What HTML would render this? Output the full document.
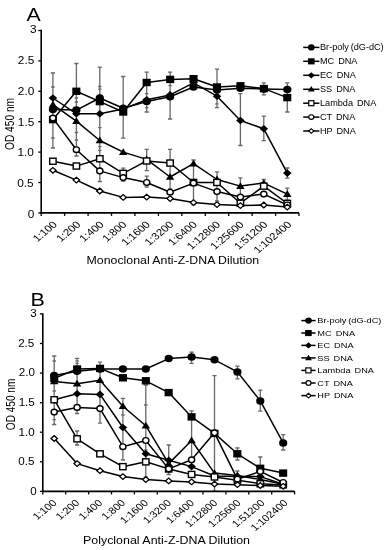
<!DOCTYPE html>
<html><head><meta charset="utf-8"><title>Figure</title>
<style>
html,body{margin:0;padding:0;background:#fff;}
svg{display:block;font-family:"Liberation Sans",Arial,sans-serif;fill:#000;}
</style></head>
<body>
<svg width="389" height="550" viewBox="0 0 389 550">
<defs><filter id="soft" x="0" y="0" width="100%" height="100%" filterUnits="userSpaceOnUse"><feGaussianBlur stdDeviation="0.35"/></filter></defs>
<g filter="url(#soft)">
<rect width="389" height="550" fill="#fff"/>
<path d="M52.9 73.0V148.0M50.8 73.0h4.2M50.8 148.0h4.2M51.2 87.0h3.4M51.2 138.0h3.4" stroke="#686868" stroke-width="1.3" fill="none"/>
<path d="M76.4 63.5V156.0M74.3 63.5h4.2M74.3 156.0h4.2M74.7 98.0h3.4M74.7 102.0h3.4M74.7 132.5h3.4M74.7 140.0h3.4" stroke="#686868" stroke-width="1.3" fill="none"/>
<path d="M99.8 67.2V181.5M97.7 67.2h4.2M97.7 181.5h4.2M98.1 86.5h3.4M98.1 89.2h3.4M98.1 127.6h3.4M98.1 146.7h3.4M98.1 150.3h3.4" stroke="#686868" stroke-width="1.3" fill="none"/>
<path d="M123.2 76.5V138.1M121.1 76.5h4.2M121.1 138.1h4.2" stroke="#686868" stroke-width="1.3" fill="none"/>
<path d="M123.2 168.2V181.0M121.1 168.2h4.2M121.1 181.0h4.2" stroke="#686868" stroke-width="1.3" fill="none"/>
<path d="M146.7 72.1V112.0M144.6 72.1h4.2M144.6 112.0h4.2M145.0 93.6h3.4M145.0 107.6h3.4" stroke="#686868" stroke-width="1.3" fill="none"/>
<path d="M146.7 149.3V170.6M144.6 149.3h4.2M144.6 170.6h4.2" stroke="#686868" stroke-width="1.3" fill="none"/>
<path d="M146.7 176.2V187.0M144.6 176.2h4.2M144.6 187.0h4.2" stroke="#686868" stroke-width="1.3" fill="none"/>
<path d="M170.1 72.1V119.0M168.0 72.1h4.2M168.0 119.0h4.2M168.4 85.6h3.4" stroke="#686868" stroke-width="1.3" fill="none"/>
<path d="M170.1 149.3V189.0M168.0 149.3h4.2M168.0 189.0h4.2" stroke="#686868" stroke-width="1.3" fill="none"/>
<path d="M193.5 160.0V204.8M191.4 160.0h4.2M191.4 204.8h4.2" stroke="#686868" stroke-width="1.3" fill="none"/>
<path d="M217.0 69.1V107.7M214.9 69.1h4.2M214.9 107.7h4.2M215.3 103.8h3.4" stroke="#686868" stroke-width="1.3" fill="none"/>
<path d="M217.0 171.8V201.0M214.9 171.8h4.2M214.9 201.0h4.2" stroke="#686868" stroke-width="1.3" fill="none"/>
<path d="M240.4 93.6V145.5M238.3 93.6h4.2M238.3 145.5h4.2" stroke="#686868" stroke-width="1.3" fill="none"/>
<path d="M240.4 177.8V196.0M238.3 177.8h4.2M238.3 196.0h4.2" stroke="#686868" stroke-width="1.3" fill="none"/>
<path d="M263.8 116.2V140.6M261.7 116.2h4.2M261.7 140.6h4.2" stroke="#686868" stroke-width="1.3" fill="none"/>
<path d="M263.8 82.8V94.8M261.7 82.8h4.2M261.7 94.8h4.2" stroke="#686868" stroke-width="1.3" fill="none"/>
<path d="M263.8 179.5V188.0M261.7 179.5h4.2M261.7 188.0h4.2" stroke="#686868" stroke-width="1.3" fill="none"/>
<path d="M287.3 82.8V112.0M285.2 82.8h4.2M285.2 112.0h4.2" stroke="#686868" stroke-width="1.3" fill="none"/>
<path d="M287.3 168.0V178.2M285.2 168.0h4.2M285.2 178.2h4.2" stroke="#686868" stroke-width="1.3" fill="none"/>
<path d="M287.3 188.2V200.0M285.2 188.2h4.2M285.2 200.0h4.2" stroke="#686868" stroke-width="1.3" fill="none"/>
<path d="M41.2 29.8V212.9H299.0" stroke="#000" stroke-width="1.6" fill="none"/>
<path d="M38.3 212.9H41.2" stroke="#000" stroke-width="1.3"/>
<text transform="translate(34.4 217.8) scale(1.14 1)" font-size="10.4" text-anchor="end">0</text>
<path d="M38.3 182.5H41.2" stroke="#000" stroke-width="1.3"/>
<text transform="translate(33.7 186.5) scale(1.14 1)" font-size="10.4" text-anchor="end">0.5</text>
<path d="M38.3 152.1H41.2" stroke="#000" stroke-width="1.3"/>
<text transform="translate(33.9 156.0) scale(1.14 1)" font-size="10.4" text-anchor="end">1.0</text>
<path d="M38.3 121.7H41.2" stroke="#000" stroke-width="1.3"/>
<text transform="translate(34.3 125.7) scale(1.14 1)" font-size="10.4" text-anchor="end">1.5</text>
<path d="M38.3 91.3H41.2" stroke="#000" stroke-width="1.3"/>
<text transform="translate(34.3 94.5) scale(1.14 1)" font-size="10.4" text-anchor="end">2.0</text>
<path d="M38.3 60.9H41.2" stroke="#000" stroke-width="1.3"/>
<text transform="translate(34.3 64.4) scale(1.14 1)" font-size="10.4" text-anchor="end">2.5</text>
<path d="M38.3 30.5H41.2" stroke="#000" stroke-width="1.3"/>
<text transform="translate(36.7 33.1) scale(1.14 1)" font-size="10.4" text-anchor="end">3</text>
<path d="M41.2 212.9v3" stroke="#000" stroke-width="1.3"/>
<path d="M64.6 212.9v3" stroke="#000" stroke-width="1.3"/>
<path d="M88.1 212.9v3" stroke="#000" stroke-width="1.3"/>
<path d="M111.5 212.9v3" stroke="#000" stroke-width="1.3"/>
<path d="M134.9 212.9v3" stroke="#000" stroke-width="1.3"/>
<path d="M158.4 212.9v3" stroke="#000" stroke-width="1.3"/>
<path d="M181.8 212.9v3" stroke="#000" stroke-width="1.3"/>
<path d="M205.3 212.9v3" stroke="#000" stroke-width="1.3"/>
<path d="M228.7 212.9v3" stroke="#000" stroke-width="1.3"/>
<path d="M252.1 212.9v3" stroke="#000" stroke-width="1.3"/>
<path d="M275.6 212.9v3" stroke="#000" stroke-width="1.3"/>
<path d="M299.0 212.9v3" stroke="#000" stroke-width="1.3"/>
<text transform="translate(52.0 220.2) scale(1.19 1) rotate(-45)" x="0" y="6.98" font-size="9.7" text-anchor="end">1:100</text>
<text transform="translate(75.5 220.2) scale(1.19 1) rotate(-45)" x="0" y="6.98" font-size="9.7" text-anchor="end">1:200</text>
<text transform="translate(98.6 220.2) scale(1.19 1) rotate(-45)" x="0" y="6.98" font-size="9.7" text-anchor="end">1:400</text>
<text transform="translate(121.5 220.2) scale(1.19 1) rotate(-45)" x="0" y="6.98" font-size="9.7" text-anchor="end">1:800</text>
<text transform="translate(145.0 220.2) scale(1.19 1) rotate(-45)" x="0" y="6.98" font-size="9.7" text-anchor="end">1:1600</text>
<text transform="translate(168.4 220.2) scale(1.19 1) rotate(-45)" x="0" y="6.98" font-size="9.7" text-anchor="end">1:3200</text>
<text transform="translate(191.8 220.2) scale(1.19 1) rotate(-45)" x="0" y="6.98" font-size="9.7" text-anchor="end">1:6400</text>
<text transform="translate(215.1 220.2) scale(1.19 1) rotate(-45)" x="0" y="6.98" font-size="9.7" text-anchor="end">1:12800</text>
<text transform="translate(238.7 220.2) scale(1.19 1) rotate(-45)" x="0" y="6.98" font-size="9.7" text-anchor="end">1:25600</text>
<text transform="translate(262.3 220.2) scale(1.19 1) rotate(-45)" x="0" y="6.98" font-size="9.7" text-anchor="end">1:51200</text>
<text transform="translate(286.4 220.2) scale(1.19 1) rotate(-45)" x="0" y="6.98" font-size="9.7" text-anchor="end">1:102400</text>
<polyline points="52.9,109.5 76.4,110.1 99.8,98.0 123.2,108.3 146.7,101.6 170.1,96.8 193.5,87.0 217.0,90.1 240.4,88.3 263.8,88.9 287.3,89.5" fill="none" stroke="#000" stroke-width="1.5" stroke-linejoin="round"/>
<ellipse cx="52.9" cy="109.5" rx="4.10" ry="3.75" fill="#000"/>
<ellipse cx="76.4" cy="110.1" rx="4.10" ry="3.75" fill="#000"/>
<ellipse cx="99.8" cy="98.0" rx="4.10" ry="3.75" fill="#000"/>
<ellipse cx="123.2" cy="108.3" rx="4.10" ry="3.75" fill="#000"/>
<ellipse cx="146.7" cy="101.6" rx="4.10" ry="3.75" fill="#000"/>
<ellipse cx="170.1" cy="96.8" rx="4.10" ry="3.75" fill="#000"/>
<ellipse cx="193.5" cy="87.0" rx="4.10" ry="3.75" fill="#000"/>
<ellipse cx="217.0" cy="90.1" rx="4.10" ry="3.75" fill="#000"/>
<ellipse cx="240.4" cy="88.3" rx="4.10" ry="3.75" fill="#000"/>
<ellipse cx="263.8" cy="88.9" rx="4.10" ry="3.75" fill="#000"/>
<ellipse cx="287.3" cy="89.5" rx="4.10" ry="3.75" fill="#000"/>
<polyline points="52.9,119.6 76.4,91.3 99.8,101.6 123.2,112.0 146.7,82.5 170.1,79.4 193.5,78.7 217.0,87.0 240.4,85.8 263.8,88.6 287.3,97.6" fill="none" stroke="#000" stroke-width="1.5" stroke-linejoin="round"/>
<rect x="48.9" y="115.9" width="8.1" height="7.4" fill="#000"/>
<rect x="72.3" y="87.6" width="8.1" height="7.4" fill="#000"/>
<rect x="95.7" y="97.9" width="8.1" height="7.4" fill="#000"/>
<rect x="119.2" y="108.3" width="8.1" height="7.4" fill="#000"/>
<rect x="142.6" y="78.8" width="8.1" height="7.4" fill="#000"/>
<rect x="166.1" y="75.7" width="8.1" height="7.4" fill="#000"/>
<rect x="189.5" y="75.0" width="8.1" height="7.4" fill="#000"/>
<rect x="212.9" y="83.3" width="8.1" height="7.4" fill="#000"/>
<rect x="236.4" y="82.1" width="8.1" height="7.4" fill="#000"/>
<rect x="259.8" y="84.9" width="8.1" height="7.4" fill="#000"/>
<rect x="283.2" y="93.9" width="8.1" height="7.4" fill="#000"/>
<polyline points="52.9,98.0 76.4,113.8 99.8,113.8 123.2,108.9 146.7,99.8 170.1,94.9 193.5,82.8 217.0,96.2 240.4,120.5 263.8,128.8 287.3,173.1" fill="none" stroke="#000" stroke-width="1.5" stroke-linejoin="round"/>
<path d="M48.6 98.0L52.9 94.2L57.2 98.0L52.9 101.8Z" fill="#000"/>
<path d="M72.1 113.8L76.4 110.0L80.7 113.8L76.4 117.6Z" fill="#000"/>
<path d="M95.5 113.8L99.8 110.0L104.1 113.8L99.8 117.6Z" fill="#000"/>
<path d="M118.9 108.9L123.2 105.1L127.5 108.9L123.2 112.7Z" fill="#000"/>
<path d="M142.4 99.8L146.7 96.0L151.0 99.8L146.7 103.6Z" fill="#000"/>
<path d="M165.8 94.9L170.1 91.1L174.4 94.9L170.1 98.7Z" fill="#000"/>
<path d="M189.2 82.8L193.5 79.0L197.8 82.8L193.5 86.6Z" fill="#000"/>
<path d="M212.7 96.2L217.0 92.4L221.3 96.2L217.0 100.0Z" fill="#000"/>
<path d="M236.1 120.5L240.4 116.7L244.7 120.5L240.4 124.3Z" fill="#000"/>
<path d="M259.5 128.8L263.8 125.0L268.1 128.8L263.8 132.6Z" fill="#000"/>
<path d="M283.0 173.1L287.3 169.3L291.6 173.1L287.3 176.9Z" fill="#000"/>
<polyline points="52.9,104.7 76.4,121.1 99.8,140.5 123.2,152.1 146.7,159.4 170.1,177.0 193.5,163.7 217.0,179.5 240.4,186.1 263.8,183.1 287.3,194.1" fill="none" stroke="#000" stroke-width="1.5" stroke-linejoin="round"/>
<path d="M48.7 107.5L52.9 100.8L57.1 107.5Z" fill="#000"/>
<path d="M72.2 123.9L76.4 117.2L80.6 123.9Z" fill="#000"/>
<path d="M95.6 143.3L99.8 136.6L104.0 143.3Z" fill="#000"/>
<path d="M119.0 154.9L123.2 148.2L127.4 154.9Z" fill="#000"/>
<path d="M142.5 162.2L146.7 155.5L150.9 162.2Z" fill="#000"/>
<path d="M165.9 179.8L170.1 173.1L174.3 179.8Z" fill="#000"/>
<path d="M189.3 166.5L193.5 159.8L197.7 166.5Z" fill="#000"/>
<path d="M212.8 182.3L217.0 175.6L221.2 182.3Z" fill="#000"/>
<path d="M236.2 188.9L240.4 182.2L244.6 188.9Z" fill="#000"/>
<path d="M259.6 185.9L263.8 179.2L268.0 185.9Z" fill="#000"/>
<path d="M283.1 196.9L287.3 190.2L291.5 196.9Z" fill="#000"/>
<polyline points="52.9,161.2 76.4,166.1 99.8,158.8 123.2,173.4 146.7,160.9 170.1,163.0 193.5,182.5 217.0,182.5 240.4,203.2 263.8,186.1 287.3,203.5" fill="none" stroke="#000" stroke-width="1.5" stroke-linejoin="round"/>
<rect x="49.7" y="158.2" width="6.4" height="6.1" fill="#fff" stroke="#000" stroke-width="1.40"/>
<rect x="73.2" y="163.0" width="6.4" height="6.1" fill="#fff" stroke="#000" stroke-width="1.40"/>
<rect x="96.6" y="155.7" width="6.4" height="6.1" fill="#fff" stroke="#000" stroke-width="1.40"/>
<rect x="120.0" y="170.3" width="6.4" height="6.1" fill="#fff" stroke="#000" stroke-width="1.40"/>
<rect x="143.5" y="157.9" width="6.4" height="6.1" fill="#fff" stroke="#000" stroke-width="1.40"/>
<rect x="166.9" y="160.0" width="6.4" height="6.1" fill="#fff" stroke="#000" stroke-width="1.40"/>
<rect x="190.3" y="179.4" width="6.4" height="6.1" fill="#fff" stroke="#000" stroke-width="1.40"/>
<rect x="213.8" y="179.4" width="6.4" height="6.1" fill="#fff" stroke="#000" stroke-width="1.40"/>
<rect x="237.2" y="200.1" width="6.4" height="6.1" fill="#fff" stroke="#000" stroke-width="1.40"/>
<rect x="260.6" y="183.1" width="6.4" height="6.1" fill="#fff" stroke="#000" stroke-width="1.40"/>
<rect x="284.1" y="200.4" width="6.4" height="6.1" fill="#fff" stroke="#000" stroke-width="1.40"/>
<polyline points="52.9,118.1 76.4,149.7 99.8,170.9 123.2,177.6 146.7,182.5 170.1,192.2 193.5,183.1 217.0,191.6 240.4,197.1 263.8,194.1 287.3,205.0" fill="none" stroke="#000" stroke-width="1.5" stroke-linejoin="round"/>
<ellipse cx="52.9" cy="118.1" rx="3.10" ry="2.85" fill="#fff" stroke="#000" stroke-width="1.40"/>
<ellipse cx="76.4" cy="149.7" rx="3.10" ry="2.85" fill="#fff" stroke="#000" stroke-width="1.40"/>
<ellipse cx="99.8" cy="170.9" rx="3.10" ry="2.85" fill="#fff" stroke="#000" stroke-width="1.40"/>
<ellipse cx="123.2" cy="177.6" rx="3.10" ry="2.85" fill="#fff" stroke="#000" stroke-width="1.40"/>
<ellipse cx="146.7" cy="182.5" rx="3.10" ry="2.85" fill="#fff" stroke="#000" stroke-width="1.40"/>
<ellipse cx="170.1" cy="192.2" rx="3.10" ry="2.85" fill="#fff" stroke="#000" stroke-width="1.40"/>
<ellipse cx="193.5" cy="183.1" rx="3.10" ry="2.85" fill="#fff" stroke="#000" stroke-width="1.40"/>
<ellipse cx="217.0" cy="191.6" rx="3.10" ry="2.85" fill="#fff" stroke="#000" stroke-width="1.40"/>
<ellipse cx="240.4" cy="197.1" rx="3.10" ry="2.85" fill="#fff" stroke="#000" stroke-width="1.40"/>
<ellipse cx="263.8" cy="194.1" rx="3.10" ry="2.85" fill="#fff" stroke="#000" stroke-width="1.40"/>
<ellipse cx="287.3" cy="205.0" rx="3.10" ry="2.85" fill="#fff" stroke="#000" stroke-width="1.40"/>
<polyline points="52.9,170.3 76.4,180.1 99.8,191.0 123.2,197.4 146.7,197.1 170.1,198.6 193.5,202.6 217.0,204.6 240.4,205.6 263.8,205.0 287.3,207.1" fill="none" stroke="#000" stroke-width="1.5" stroke-linejoin="round"/>
<path d="M49.7 170.3L52.9 167.5L56.1 170.3L52.9 173.1Z" fill="#fff" stroke="#000" stroke-width="1.30"/>
<path d="M73.2 180.1L76.4 177.3L79.6 180.1L76.4 182.9Z" fill="#fff" stroke="#000" stroke-width="1.30"/>
<path d="M96.6 191.0L99.8 188.2L103.0 191.0L99.8 193.8Z" fill="#fff" stroke="#000" stroke-width="1.30"/>
<path d="M120.0 197.4L123.2 194.6L126.4 197.4L123.2 200.2Z" fill="#fff" stroke="#000" stroke-width="1.30"/>
<path d="M143.5 197.1L146.7 194.3L149.9 197.1L146.7 199.9Z" fill="#fff" stroke="#000" stroke-width="1.30"/>
<path d="M166.9 198.6L170.1 195.8L173.3 198.6L170.1 201.4Z" fill="#fff" stroke="#000" stroke-width="1.30"/>
<path d="M190.3 202.6L193.5 199.8L196.7 202.6L193.5 205.4Z" fill="#fff" stroke="#000" stroke-width="1.30"/>
<path d="M213.8 204.6L217.0 201.8L220.2 204.6L217.0 207.4Z" fill="#fff" stroke="#000" stroke-width="1.30"/>
<path d="M237.2 205.6L240.4 202.8L243.6 205.6L240.4 208.4Z" fill="#fff" stroke="#000" stroke-width="1.30"/>
<path d="M260.6 205.0L263.8 202.2L267.0 205.0L263.8 207.8Z" fill="#fff" stroke="#000" stroke-width="1.30"/>
<path d="M284.1 207.1L287.3 204.3L290.5 207.1L287.3 209.9Z" fill="#fff" stroke="#000" stroke-width="1.30"/>
<path d="M54.2 356.0V424.5M52.1 356.0h4.2M52.1 424.5h4.2M52.5 361.0h3.4M52.5 391.0h3.4M52.5 419.6h3.4" stroke="#686868" stroke-width="1.3" fill="none"/>
<path d="M77.1 358.4V413.5M75.0 358.4h4.2M75.0 413.5h4.2M75.4 360.9h3.4M75.4 363.3h3.4" stroke="#686868" stroke-width="1.3" fill="none"/>
<path d="M77.1 431.0V445.0M75.0 431.0h4.2M75.0 445.0h4.2" stroke="#686868" stroke-width="1.3" fill="none"/>
<path d="M100.0 362.1V423.2M97.9 362.1h4.2M97.9 423.2h4.2M98.3 366.0h3.4" stroke="#686868" stroke-width="1.3" fill="none"/>
<path d="M122.9 398.3V460.0M120.8 398.3h4.2M120.8 460.0h4.2M121.2 415.0h3.4" stroke="#686868" stroke-width="1.3" fill="none"/>
<path d="M145.8 385.0V477.0M143.7 385.0h4.2M143.7 477.0h4.2M144.1 405.0h3.4M144.1 450.0h3.4" stroke="#686868" stroke-width="1.3" fill="none"/>
<path d="M168.7 445.0V474.5M166.6 445.0h4.2M166.6 474.5h4.2" stroke="#686868" stroke-width="1.3" fill="none"/>
<path d="M191.6 352.2V363.3M189.5 352.2h4.2M189.5 363.3h4.2" stroke="#686868" stroke-width="1.3" fill="none"/>
<path d="M191.6 410.9V462.0M189.5 410.9h4.2M189.5 462.0h4.2" stroke="#686868" stroke-width="1.3" fill="none"/>
<path d="M214.5 375.7V491.0M212.4 375.7h4.2M212.4 491.0h4.2" stroke="#686868" stroke-width="1.3" fill="none"/>
<path d="M237.4 366.1V378.8M235.3 366.1h4.2M235.3 378.8h4.2" stroke="#686868" stroke-width="1.3" fill="none"/>
<path d="M237.4 448.0V460.0M235.3 448.0h4.2M235.3 460.0h4.2" stroke="#686868" stroke-width="1.3" fill="none"/>
<path d="M237.4 471.0V481.0M235.3 471.0h4.2M235.3 481.0h4.2" stroke="#686868" stroke-width="1.3" fill="none"/>
<path d="M260.3 390.2V411.2M258.2 390.2h4.2M258.2 411.2h4.2" stroke="#686868" stroke-width="1.3" fill="none"/>
<path d="M260.3 457.0V480.0M258.2 457.0h4.2M258.2 480.0h4.2" stroke="#686868" stroke-width="1.3" fill="none"/>
<path d="M283.2 434.7V450.0M281.1 434.7h4.2M281.1 450.0h4.2" stroke="#686868" stroke-width="1.3" fill="none"/>
<path d="M42.8 313.2V491.4H294.6" stroke="#000" stroke-width="1.6" fill="none"/>
<path d="M39.9 491.4H42.8" stroke="#000" stroke-width="1.3"/>
<text transform="translate(36.6 494.8) scale(1.14 1)" font-size="10.2" text-anchor="end">0</text>
<path d="M39.9 461.8H42.8" stroke="#000" stroke-width="1.3"/>
<text transform="translate(34.5 465.3) scale(1.14 1)" font-size="10.2" text-anchor="end">0.5</text>
<path d="M39.9 432.2H42.8" stroke="#000" stroke-width="1.3"/>
<text transform="translate(34.7 435.5) scale(1.14 1)" font-size="10.2" text-anchor="end">1.0</text>
<path d="M39.9 402.7H42.8" stroke="#000" stroke-width="1.3"/>
<text transform="translate(34.8 405.5) scale(1.14 1)" font-size="10.2" text-anchor="end">1.5</text>
<path d="M39.9 373.1H42.8" stroke="#000" stroke-width="1.3"/>
<text transform="translate(34.9 376.2) scale(1.14 1)" font-size="10.2" text-anchor="end">2.0</text>
<path d="M39.9 343.5H42.8" stroke="#000" stroke-width="1.3"/>
<text transform="translate(34.3 346.9) scale(1.14 1)" font-size="10.2" text-anchor="end">2.5</text>
<path d="M39.9 313.9H42.8" stroke="#000" stroke-width="1.3"/>
<text transform="translate(36.7 317.4) scale(1.14 1)" font-size="10.2" text-anchor="end">3</text>
<path d="M42.8 491.4v3" stroke="#000" stroke-width="1.3"/>
<path d="M65.7 491.4v3" stroke="#000" stroke-width="1.3"/>
<path d="M88.6 491.4v3" stroke="#000" stroke-width="1.3"/>
<path d="M111.5 491.4v3" stroke="#000" stroke-width="1.3"/>
<path d="M134.4 491.4v3" stroke="#000" stroke-width="1.3"/>
<path d="M157.3 491.4v3" stroke="#000" stroke-width="1.3"/>
<path d="M180.1 491.4v3" stroke="#000" stroke-width="1.3"/>
<path d="M203.0 491.4v3" stroke="#000" stroke-width="1.3"/>
<path d="M225.9 491.4v3" stroke="#000" stroke-width="1.3"/>
<path d="M248.8 491.4v3" stroke="#000" stroke-width="1.3"/>
<path d="M271.7 491.4v3" stroke="#000" stroke-width="1.3"/>
<path d="M294.6 491.4v3" stroke="#000" stroke-width="1.3"/>
<text transform="translate(51.6 498.7) scale(1.19 1) rotate(-45)" x="0" y="6.84" font-size="9.5" text-anchor="end">1:100</text>
<text transform="translate(74.5 498.7) scale(1.19 1) rotate(-45)" x="0" y="6.84" font-size="9.5" text-anchor="end">1:200</text>
<text transform="translate(97.4 498.7) scale(1.19 1) rotate(-45)" x="0" y="6.84" font-size="9.5" text-anchor="end">1:400</text>
<text transform="translate(120.3 498.7) scale(1.19 1) rotate(-45)" x="0" y="6.84" font-size="9.5" text-anchor="end">1:800</text>
<text transform="translate(143.2 498.7) scale(1.19 1) rotate(-45)" x="0" y="6.84" font-size="9.5" text-anchor="end">1:1600</text>
<text transform="translate(166.1 498.7) scale(1.19 1) rotate(-45)" x="0" y="6.84" font-size="9.5" text-anchor="end">1:3200</text>
<text transform="translate(189.3 498.7) scale(1.19 1) rotate(-45)" x="0" y="6.84" font-size="9.5" text-anchor="end">1:6400</text>
<text transform="translate(212.5 498.7) scale(1.19 1) rotate(-45)" x="0" y="6.84" font-size="9.5" text-anchor="end">1:12800</text>
<text transform="translate(235.7 498.7) scale(1.19 1) rotate(-45)" x="0" y="6.84" font-size="9.5" text-anchor="end">1:25600</text>
<text transform="translate(259.6 498.7) scale(1.19 1) rotate(-45)" x="0" y="6.84" font-size="9.5" text-anchor="end">1:51200</text>
<text transform="translate(282.8 498.7) scale(1.19 1) rotate(-45)" x="0" y="6.84" font-size="9.5" text-anchor="end">1:102400</text>
<polyline points="54.2,375.5 77.1,371.3 100.0,369.0 122.9,369.0 145.8,369.0 168.7,358.6 191.6,357.1 214.5,359.8 237.4,371.9 260.3,400.9 283.2,442.9" fill="none" stroke="#000" stroke-width="1.5" stroke-linejoin="round"/>
<ellipse cx="54.2" cy="375.5" rx="4.10" ry="3.75" fill="#000"/>
<ellipse cx="77.1" cy="371.3" rx="4.10" ry="3.75" fill="#000"/>
<ellipse cx="100.0" cy="369.0" rx="4.10" ry="3.75" fill="#000"/>
<ellipse cx="122.9" cy="369.0" rx="4.10" ry="3.75" fill="#000"/>
<ellipse cx="145.8" cy="369.0" rx="4.10" ry="3.75" fill="#000"/>
<ellipse cx="168.7" cy="358.6" rx="4.10" ry="3.75" fill="#000"/>
<ellipse cx="191.6" cy="357.1" rx="4.10" ry="3.75" fill="#000"/>
<ellipse cx="214.5" cy="359.8" rx="4.10" ry="3.75" fill="#000"/>
<ellipse cx="237.4" cy="371.9" rx="4.10" ry="3.75" fill="#000"/>
<ellipse cx="260.3" cy="400.9" rx="4.10" ry="3.75" fill="#000"/>
<ellipse cx="283.2" cy="442.9" rx="4.10" ry="3.75" fill="#000"/>
<polyline points="54.2,378.4 77.1,369.0 100.0,368.4 122.9,377.8 145.8,380.8 168.7,392.6 191.6,416.9 214.5,433.4 237.4,453.8 260.3,468.3 283.2,473.1" fill="none" stroke="#000" stroke-width="1.5" stroke-linejoin="round"/>
<rect x="50.2" y="374.7" width="8.1" height="7.4" fill="#000"/>
<rect x="73.1" y="365.3" width="8.1" height="7.4" fill="#000"/>
<rect x="96.0" y="364.7" width="8.1" height="7.4" fill="#000"/>
<rect x="118.9" y="374.1" width="8.1" height="7.4" fill="#000"/>
<rect x="141.8" y="377.1" width="8.1" height="7.4" fill="#000"/>
<rect x="164.6" y="388.9" width="8.1" height="7.4" fill="#000"/>
<rect x="187.5" y="413.2" width="8.1" height="7.4" fill="#000"/>
<rect x="210.4" y="429.7" width="8.1" height="7.4" fill="#000"/>
<rect x="233.3" y="450.1" width="8.1" height="7.4" fill="#000"/>
<rect x="256.2" y="464.6" width="8.1" height="7.4" fill="#000"/>
<rect x="279.1" y="469.4" width="8.1" height="7.4" fill="#000"/>
<polyline points="54.2,399.7 77.1,393.8 100.0,394.4 122.9,427.5 145.8,453.8 168.7,460.3 191.6,466.6 214.5,476.0 237.4,476.6 260.3,476.6 283.2,484.3" fill="none" stroke="#000" stroke-width="1.5" stroke-linejoin="round"/>
<path d="M49.9 399.7L54.2 395.9L58.5 399.7L54.2 403.5Z" fill="#000"/>
<path d="M72.8 393.8L77.1 390.0L81.4 393.8L77.1 397.6Z" fill="#000"/>
<path d="M95.7 394.4L100.0 390.6L104.3 394.4L100.0 398.2Z" fill="#000"/>
<path d="M118.6 427.5L122.9 423.7L127.2 427.5L122.9 431.3Z" fill="#000"/>
<path d="M141.5 453.8L145.8 450.0L150.1 453.8L145.8 457.6Z" fill="#000"/>
<path d="M164.4 460.3L168.7 456.5L173.0 460.3L168.7 464.1Z" fill="#000"/>
<path d="M187.3 466.6L191.6 462.8L195.9 466.6L191.6 470.4Z" fill="#000"/>
<path d="M210.2 476.0L214.5 472.2L218.8 476.0L214.5 479.8Z" fill="#000"/>
<path d="M233.1 476.6L237.4 472.8L241.7 476.6L237.4 480.4Z" fill="#000"/>
<path d="M256.0 476.6L260.3 472.8L264.6 476.6L260.3 480.4Z" fill="#000"/>
<path d="M278.9 484.3L283.2 480.5L287.5 484.3L283.2 488.1Z" fill="#000"/>
<polyline points="54.2,381.4 77.1,383.7 100.0,380.2 122.9,406.2 145.8,425.7 168.7,463.6 191.6,440.5 214.5,473.1 237.4,475.4 260.3,479.6 283.2,484.3" fill="none" stroke="#000" stroke-width="1.5" stroke-linejoin="round"/>
<path d="M50.0 384.2L54.2 377.5L58.4 384.2Z" fill="#000"/>
<path d="M72.9 386.5L77.1 379.8L81.3 386.5Z" fill="#000"/>
<path d="M95.8 383.0L100.0 376.3L104.2 383.0Z" fill="#000"/>
<path d="M118.7 409.0L122.9 402.3L127.1 409.0Z" fill="#000"/>
<path d="M141.6 428.5L145.8 421.8L150.0 428.5Z" fill="#000"/>
<path d="M164.5 466.4L168.7 459.7L172.9 466.4Z" fill="#000"/>
<path d="M187.4 443.3L191.6 436.6L195.8 443.3Z" fill="#000"/>
<path d="M210.3 475.9L214.5 469.2L218.7 475.9Z" fill="#000"/>
<path d="M233.2 478.2L237.4 471.5L241.6 478.2Z" fill="#000"/>
<path d="M256.1 482.4L260.3 475.7L264.5 482.4Z" fill="#000"/>
<path d="M279.0 487.1L283.2 480.4L287.4 487.1Z" fill="#000"/>
<polyline points="54.2,399.7 77.1,438.9 100.0,453.8 122.9,466.7 145.8,461.8 168.7,468.9 191.6,474.5 214.5,476.9 237.4,480.2 260.3,483.7 283.2,484.9" fill="none" stroke="#000" stroke-width="1.5" stroke-linejoin="round"/>
<rect x="51.0" y="396.7" width="6.4" height="6.1" fill="#fff" stroke="#000" stroke-width="1.40"/>
<rect x="73.9" y="435.8" width="6.4" height="6.1" fill="#fff" stroke="#000" stroke-width="1.40"/>
<rect x="96.8" y="450.8" width="6.4" height="6.1" fill="#fff" stroke="#000" stroke-width="1.40"/>
<rect x="119.7" y="463.6" width="6.4" height="6.1" fill="#fff" stroke="#000" stroke-width="1.40"/>
<rect x="142.6" y="458.8" width="6.4" height="6.1" fill="#fff" stroke="#000" stroke-width="1.40"/>
<rect x="165.5" y="465.9" width="6.4" height="6.1" fill="#fff" stroke="#000" stroke-width="1.40"/>
<rect x="188.4" y="471.4" width="6.4" height="6.1" fill="#fff" stroke="#000" stroke-width="1.40"/>
<rect x="211.3" y="473.9" width="6.4" height="6.1" fill="#fff" stroke="#000" stroke-width="1.40"/>
<rect x="234.2" y="477.1" width="6.4" height="6.1" fill="#fff" stroke="#000" stroke-width="1.40"/>
<rect x="257.1" y="480.7" width="6.4" height="6.1" fill="#fff" stroke="#000" stroke-width="1.40"/>
<rect x="280.0" y="481.8" width="6.4" height="6.1" fill="#fff" stroke="#000" stroke-width="1.40"/>
<polyline points="54.2,412.1 77.1,407.4 100.0,408.6 122.9,446.7 145.8,440.5 168.7,468.9 191.6,459.8 214.5,432.8 237.4,479.2 260.3,471.4 283.2,482.5" fill="none" stroke="#000" stroke-width="1.5" stroke-linejoin="round"/>
<ellipse cx="54.2" cy="412.1" rx="3.10" ry="2.85" fill="#fff" stroke="#000" stroke-width="1.40"/>
<ellipse cx="77.1" cy="407.4" rx="3.10" ry="2.85" fill="#fff" stroke="#000" stroke-width="1.40"/>
<ellipse cx="100.0" cy="408.6" rx="3.10" ry="2.85" fill="#fff" stroke="#000" stroke-width="1.40"/>
<ellipse cx="122.9" cy="446.7" rx="3.10" ry="2.85" fill="#fff" stroke="#000" stroke-width="1.40"/>
<ellipse cx="145.8" cy="440.5" rx="3.10" ry="2.85" fill="#fff" stroke="#000" stroke-width="1.40"/>
<ellipse cx="168.7" cy="468.9" rx="3.10" ry="2.85" fill="#fff" stroke="#000" stroke-width="1.40"/>
<ellipse cx="191.6" cy="459.8" rx="3.10" ry="2.85" fill="#fff" stroke="#000" stroke-width="1.40"/>
<ellipse cx="214.5" cy="432.8" rx="3.10" ry="2.85" fill="#fff" stroke="#000" stroke-width="1.40"/>
<ellipse cx="237.4" cy="479.2" rx="3.10" ry="2.85" fill="#fff" stroke="#000" stroke-width="1.40"/>
<ellipse cx="260.3" cy="471.4" rx="3.10" ry="2.85" fill="#fff" stroke="#000" stroke-width="1.40"/>
<ellipse cx="283.2" cy="482.5" rx="3.10" ry="2.85" fill="#fff" stroke="#000" stroke-width="1.40"/>
<polyline points="54.2,438.5 77.1,463.6 100.0,470.7 122.9,476.6 145.8,479.6 168.7,480.9 191.6,481.9 214.5,484.1 237.4,484.7 260.3,485.5 283.2,486.3" fill="none" stroke="#000" stroke-width="1.5" stroke-linejoin="round"/>
<path d="M51.0 438.5L54.2 435.7L57.4 438.5L54.2 441.3Z" fill="#fff" stroke="#000" stroke-width="1.30"/>
<path d="M73.9 463.6L77.1 460.8L80.3 463.6L77.1 466.4Z" fill="#fff" stroke="#000" stroke-width="1.30"/>
<path d="M96.8 470.7L100.0 467.9L103.2 470.7L100.0 473.5Z" fill="#fff" stroke="#000" stroke-width="1.30"/>
<path d="M119.7 476.6L122.9 473.8L126.1 476.6L122.9 479.4Z" fill="#fff" stroke="#000" stroke-width="1.30"/>
<path d="M142.6 479.6L145.8 476.8L149.0 479.6L145.8 482.4Z" fill="#fff" stroke="#000" stroke-width="1.30"/>
<path d="M165.5 480.9L168.7 478.1L171.9 480.9L168.7 483.7Z" fill="#fff" stroke="#000" stroke-width="1.30"/>
<path d="M188.4 481.9L191.6 479.1L194.8 481.9L191.6 484.7Z" fill="#fff" stroke="#000" stroke-width="1.30"/>
<path d="M211.3 484.1L214.5 481.3L217.7 484.1L214.5 486.9Z" fill="#fff" stroke="#000" stroke-width="1.30"/>
<path d="M234.2 484.7L237.4 481.9L240.6 484.7L237.4 487.5Z" fill="#fff" stroke="#000" stroke-width="1.30"/>
<path d="M257.1 485.5L260.3 482.7L263.5 485.5L260.3 488.3Z" fill="#fff" stroke="#000" stroke-width="1.30"/>
<path d="M280.0 486.3L283.2 483.5L286.4 486.3L283.2 489.1Z" fill="#fff" stroke="#000" stroke-width="1.30"/>
<text transform="translate(26.6 21.1) scale(1.14 1)" font-size="18.7">A</text>
<text transform="translate(30.4 305.6) scale(1.2 1)" font-size="17.9">B</text>
<text transform="translate(14.4 150.0) rotate(-90) scale(1 1.2)" font-size="10.2">OD 450 nm</text>
<text transform="translate(14.9 430.2) rotate(-90) scale(1 1.18)" font-size="10.1">OD 450 nm</text>
<text x="86.6" y="263.7" font-size="10.4" textLength="172.6" lengthAdjust="spacingAndGlyphs">Monoclonal Anti-Z-DNA Dilution</text>
<text x="83" y="544.1" font-size="10.3" textLength="167" lengthAdjust="spacingAndGlyphs">Polyclonal Anti-Z-DNA Dilution</text>
<path d="M303.2 47.4H319.4" stroke="#000" stroke-width="1.5"/>
<ellipse cx="311.3" cy="47.4" rx="3.36" ry="3.07" fill="#000"/>
<text transform="translate(320.0 50.3) scale(1.09 1)" font-size="8.4" word-spacing="1.3">Br-poly<tspan dx="1.6">(dG-dC)</tspan></text>
<path d="M303.2 61.3H319.4" stroke="#000" stroke-width="1.5"/>
<rect x="308.0" y="58.3" width="6.6" height="6.1" fill="#000"/>
<text transform="translate(320.0 64.2) scale(1.09 1)" font-size="8.4" word-spacing="1.3">MC DNA</text>
<path d="M303.2 75.3H319.4" stroke="#000" stroke-width="1.5"/>
<path d="M307.8 75.3L311.3 72.2L314.8 75.3L311.3 78.4Z" fill="#000"/>
<text transform="translate(320.0 78.2) scale(1.09 1)" font-size="8.4" word-spacing="1.3">EC DNA</text>
<path d="M303.2 89.3H319.4" stroke="#000" stroke-width="1.5"/>
<path d="M307.9 91.6L311.3 86.1L314.7 91.6Z" fill="#000"/>
<text transform="translate(320.0 92.2) scale(1.09 1)" font-size="8.4" word-spacing="1.3">SS DNA</text>
<path d="M303.2 103.2H319.4" stroke="#000" stroke-width="1.5"/>
<rect x="308.7" y="100.7" width="5.2" height="5.0" fill="#fff" stroke="#000" stroke-width="1.19"/>
<text transform="translate(320.0 106.1) scale(1.09 1)" font-size="8.4" word-spacing="1.3">Lambda DNA</text>
<path d="M303.2 117.1H319.4" stroke="#000" stroke-width="1.5"/>
<ellipse cx="311.3" cy="117.1" rx="2.54" ry="2.34" fill="#fff" stroke="#000" stroke-width="1.19"/>
<text transform="translate(320.0 120.0) scale(1.09 1)" font-size="8.4" word-spacing="1.3">CT DNA</text>
<path d="M303.2 131.0H319.4" stroke="#000" stroke-width="1.5"/>
<path d="M308.7 131.0L311.3 128.7L313.9 131.0L311.3 133.3Z" fill="#fff" stroke="#000" stroke-width="1.10"/>
<text transform="translate(320.0 133.9) scale(1.09 1)" font-size="8.4" word-spacing="1.3">HP DNA</text>
<path d="M301.3 320.6H315.6" stroke="#000" stroke-width="1.5"/>
<ellipse cx="308.5" cy="320.6" rx="3.36" ry="3.07" fill="#000"/>
<text transform="translate(317.3 323.4) scale(1.15 1)" font-size="8.0" word-spacing="1.3">Br-poly<tspan dx="1.6">(dG-dC)</tspan></text>
<path d="M301.3 333.0H315.6" stroke="#000" stroke-width="1.5"/>
<rect x="305.1" y="330.0" width="6.6" height="6.1" fill="#000"/>
<text transform="translate(317.3 335.8) scale(1.15 1)" font-size="8.0" word-spacing="1.3">MC DNA</text>
<path d="M301.3 345.4H315.6" stroke="#000" stroke-width="1.5"/>
<path d="M304.9 345.4L308.5 342.3L312.0 345.4L308.5 348.5Z" fill="#000"/>
<text transform="translate(317.3 348.2) scale(1.15 1)" font-size="8.0" word-spacing="1.3">EC DNA</text>
<path d="M301.3 357.9H315.6" stroke="#000" stroke-width="1.5"/>
<path d="M305.0 360.2L308.5 354.7L311.9 360.2Z" fill="#000"/>
<text transform="translate(317.3 360.7) scale(1.15 1)" font-size="8.0" word-spacing="1.3">SS DNA</text>
<path d="M301.3 370.4H315.6" stroke="#000" stroke-width="1.5"/>
<rect x="305.8" y="367.9" width="5.2" height="5.0" fill="#fff" stroke="#000" stroke-width="1.19"/>
<text transform="translate(317.3 373.2) scale(1.15 1)" font-size="8.0" word-spacing="1.3">Lambda DNA</text>
<path d="M301.3 383.0H315.6" stroke="#000" stroke-width="1.5"/>
<ellipse cx="308.5" cy="383.0" rx="2.54" ry="2.34" fill="#fff" stroke="#000" stroke-width="1.19"/>
<text transform="translate(317.3 385.8) scale(1.15 1)" font-size="8.0" word-spacing="1.3">CT DNA</text>
<path d="M301.3 395.6H315.6" stroke="#000" stroke-width="1.5"/>
<path d="M305.8 395.6L308.5 393.3L311.1 395.6L308.5 397.9Z" fill="#fff" stroke="#000" stroke-width="1.10"/>
<text transform="translate(317.3 398.4) scale(1.15 1)" font-size="8.0" word-spacing="1.3">HP DNA</text>
</g>
</svg>
</body></html>
